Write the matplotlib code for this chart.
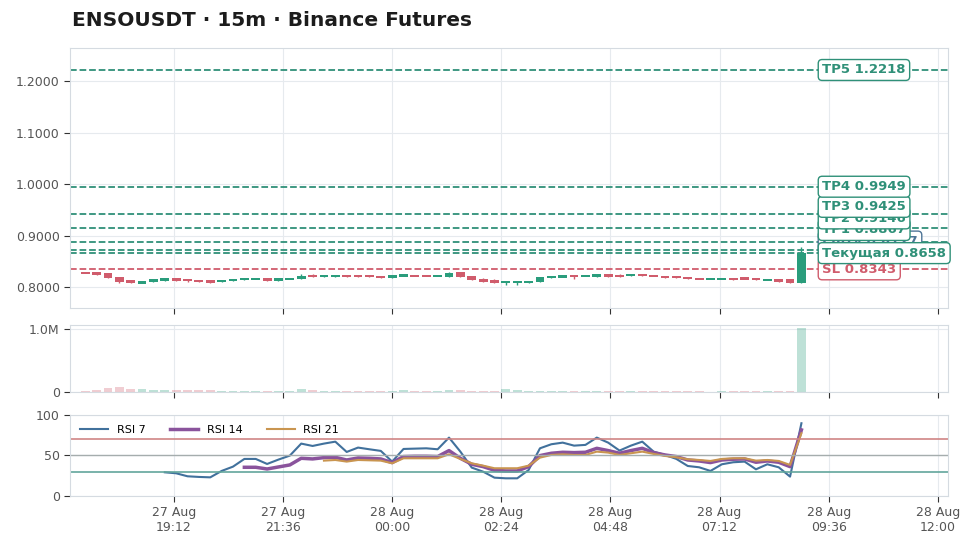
import numpy as np
import pandas as pd
import matplotlib
matplotlib.use('Agg')
import matplotlib.pyplot as plt
import matplotlib.dates as mdates
from matplotlib.ticker import MultipleLocator, FuncFormatter
import matplotlib.transforms as mtransforms

# --- data ---
start = '2025-08-27 17:15'
opens = [0.8285, 0.8298, 0.8266, 0.8201, 0.8130, 0.8072, 0.8091, 0.8123, 0.8175, 0.8156,
         0.8136, 0.8130, 0.8091, 0.8117, 0.8130, 0.8149, 0.8175, 0.8123, 0.8153, 0.8156,
         0.8240, 0.8195, 0.8195, 0.8233, 0.8233, 0.8210, 0.8214, 0.8169, 0.8218, 0.8222,
         0.8222, 0.8214, 0.8195, 0.8285, 0.8220, 0.8162, 0.8143, 0.8085, 0.8095, 0.8072,
         0.8091, 0.8185, 0.8198, 0.8217, 0.8211, 0.8201, 0.8246, 0.8240, 0.8208, 0.8246,
         0.8223, 0.8214, 0.8191, 0.8182, 0.8159, 0.8149, 0.8153, 0.8152, 0.8165, 0.8152,
         0.8133, 0.8149, 0.8149, 0.8085]
closes = [0.8272, 0.8233, 0.8182, 0.8091, 0.8072, 0.8104, 0.8156, 0.8175, 0.8123, 0.8110,
          0.8091, 0.8085, 0.8136, 0.8156, 0.8175, 0.8162, 0.8123, 0.8175, 0.8160, 0.8220,
          0.8195, 0.8233, 0.8233, 0.8195, 0.8195, 0.8205, 0.8169, 0.8233, 0.8224, 0.8216,
          0.8216, 0.8222, 0.8266, 0.8195, 0.8130, 0.8104, 0.8085, 0.8097, 0.8100, 0.8117,
          0.8188, 0.8191, 0.8204, 0.8211, 0.8217, 0.8246, 0.8201, 0.8195, 0.8246, 0.8214,
          0.8217, 0.8182, 0.8185, 0.8156, 0.8153, 0.8155, 0.8159, 0.8146, 0.8159, 0.8146,
          0.8139, 0.8104, 0.8085, 0.8658]
highs = [0.8290, 0.8300, 0.8268, 0.8203, 0.8133, 0.8106, 0.8158, 0.8178, 0.8178, 0.8158,
         0.8138, 0.8132, 0.8138, 0.8158, 0.8178, 0.8165, 0.8178, 0.8178, 0.8163, 0.8246,
         0.8243, 0.8236, 0.8236, 0.8236, 0.8236, 0.8213, 0.8217, 0.8236, 0.8227, 0.8225,
         0.8225, 0.8225, 0.8292, 0.8288, 0.8223, 0.8165, 0.8146, 0.8100, 0.8103, 0.8120,
         0.8191, 0.8194, 0.8227, 0.8220, 0.8220, 0.8249, 0.8249, 0.8243, 0.8249, 0.8249,
         0.8226, 0.8217, 0.8194, 0.8185, 0.8162, 0.8158, 0.8162, 0.8155, 0.8168, 0.8155,
         0.8142, 0.8152, 0.8152, 0.8783]
lows = [0.8268, 0.8230, 0.8178, 0.8072, 0.8068, 0.8068, 0.8088, 0.8120, 0.8120, 0.8106,
        0.8088, 0.8072, 0.8088, 0.8114, 0.8127, 0.8146, 0.8120, 0.8120, 0.8150, 0.8153,
        0.8192, 0.8192, 0.8192, 0.8192, 0.8192, 0.8202, 0.8166, 0.8166, 0.8215, 0.8213,
        0.8213, 0.8211, 0.8192, 0.8192, 0.8127, 0.8101, 0.8082, 0.8033, 0.8046, 0.8069,
        0.8088, 0.8182, 0.8195, 0.8149, 0.8208, 0.8198, 0.8198, 0.8192, 0.8205, 0.8211,
        0.8214, 0.8179, 0.8182, 0.8153, 0.8150, 0.8146, 0.8150, 0.8143, 0.8156, 0.8143,
        0.8130, 0.8101, 0.8082, 0.8082]
volumes = [0.010, 0.026, 0.058, 0.080, 0.048, 0.042, 0.026, 0.026, 0.030, 0.026,
           0.030, 0.030, 0.012, 0.010, 0.012, 0.010, 0.012, 0.010, 0.012, 0.048,
           0.030, 0.010, 0.010, 0.012, 0.008, 0.010, 0.012, 0.010, 0.035, 0.010,
           0.010, 0.012, 0.030, 0.026, 0.012, 0.020, 0.020, 0.050, 0.030, 0.008,
           0.010, 0.008, 0.018, 0.010, 0.008, 0.020, 0.010, 0.010, 0.022, 0.010,
           0.018, 0.020, 0.010, 0.010, 0.008, 0.006, 0.010, 0.008, 0.012, 0.008,
           0.010, 0.008, 0.010, 1.012]  # millions

rsi7 = [np.nan] * 7 + [
    29.2, 28.0, 24.3, 23.5, 23.0, 30.9, 36.2, 45.7, 45.7, 39.5, 44.9, 49.8, 64.6,
    61.7, 64.6, 67.0, 54.3, 59.7, 57.6, 55.6, 42.4, 58.0, 58.4, 58.8, 57.6, 72.0,
    54.7, 35.0, 30.0, 22.6, 21.8, 21.8, 32.0, 58.8, 63.8, 65.8, 62.1, 63.0, 72.0,
    65.8, 56.0, 62.1, 67.0, 54.7, 50.6, 45.7, 37.0, 35.4, 30.9, 39.1, 41.6, 42.4,
    32.9, 39.1, 35.4, 23.9, 89.7]
rsi14 = [np.nan] * 14 + [
    35.4, 35.4, 33.3, 35.8, 38.3, 46.5, 45.7, 47.3, 47.7, 44.4,
    46.9, 46.5, 45.7, 41.2, 48.6, 49.0, 49.0, 48.6, 56.0, 46.5,
    39.1, 36.2, 31.7, 30.9, 30.9, 36.2, 49.8, 52.7, 53.9, 53.5,
    53.9, 58.8, 56.0, 52.7, 56.0, 58.8, 53.5, 50.6, 48.6, 44.4,
    43.2, 41.2, 44.4, 45.3, 45.7, 41.6, 43.2, 41.6, 36.2, 81.5]
rsi21 = [np.nan] * 21 + [
    43.6, 44.4, 42.4, 44.4, 44.0, 43.6, 40.3, 46.5, 46.5, 46.5,
    46.5, 51.4, 45.7, 40.3, 37.4, 34.2, 34.2, 34.2, 37.4, 47.3,
    50.6, 51.4, 50.6, 50.6, 54.7, 53.5, 50.6, 52.7, 54.7, 51.9,
    49.4, 47.7, 45.3, 44.4, 43.2, 45.7, 46.5, 46.5, 43.6, 44.4,
    43.2, 38.3, 77.4]

level_names = ['SL', 'Текущая', 'Entry', 'TP1', 'TP2', 'TP3', 'TP4', 'TP5']
level_values = [0.8343, 0.8658, 0.8727, 0.8867, 0.9146, 0.9425, 0.9949, 1.2218]

GREEN = '#2a9d7c'
RED = '#d05c6c'
LVL_GREEN = '#2f9078'
ENTRY_BLUE = '#4f7597'
TXT = '#555555'
GRID = '#e6eaee'
SPINE = '#d5dbe1'

times = pd.date_range(start, periods=len(opens), freq='15min')
x = mdates.date2num(times.to_pydatetime())
step = 15 / 1440.0
o = np.array(opens); c = np.array(closes)
up = c >= o
cols = [GREEN if u else RED for u in up]

fig = plt.figure(figsize=(9.73, 5.48), dpi=100)
ax = fig.add_axes([0.072, 0.438, 0.902, 0.474])
axv = fig.add_axes([0.072, 0.2847, 0.902, 0.122], sharex=ax)
axr = fig.add_axes([0.072, 0.0949, 0.902, 0.148], sharex=ax)

for a in (ax, axv, axr):
    a.grid(True, color=GRID, lw=0.8)
    a.set_axisbelow(True)
    for s in a.spines.values():
        s.set_color(SPINE)
    a.tick_params(colors='#333333', labelcolor=TXT, labelsize=9, length=4)

# candles
ax.vlines(x, lows, highs, colors=cols, lw=1, zorder=2)
mid = (o + c) / 2
body_h = np.maximum(np.abs(c - o), 0.0045)
ax.bar(x, body_h, width=step * 0.78, bottom=mid - body_h / 2, color=cols, zorder=3)

# levels
for name, v in zip(level_names, level_values):
    col = RED if name == 'SL' else LVL_GREEN
    ax.axhline(v, color=col, ls='--', lw=1.3, zorder=1)

# label positions pushed apart from bottom up
order = np.argsort(level_values)
label_y = {}
prev = -np.inf
for k in order:
    y = max(level_values[k], prev + 0.0225)
    label_y[k] = y
    prev = y

trans = mtransforms.blended_transform_factory(ax.transAxes, ax.transData)
draw_order = [0, 2, 1, 3, 4, 5, 6, 7]
for z, k in enumerate(draw_order):
    name = level_names[k]
    v = level_values[k]
    if name == 'SL':
        col = RED
    elif name == 'Entry':
        col = ENTRY_BLUE
    else:
        col = LVL_GREEN
    ax.text(0.857, label_y[k], f'{name} {v:.4f}', transform=trans, ha='left', va='center',
            fontsize=9.5, fontweight='bold', color=col, zorder=10 + z,
            bbox=dict(boxstyle='round,pad=0.3', fc='white', ec=col, lw=1))

ax.set_ylim(0.7592, 1.2641)
ax.yaxis.set_major_locator(MultipleLocator(0.1))
ax.yaxis.set_major_formatter(FuncFormatter(lambda v, p: f'{v:.4f}'))
ax.tick_params(labelbottom=False)

# volume
axv.bar(x, np.array(volumes) * 1e6, width=step * 0.78, color=cols, alpha=0.3)
axv.set_ylim(0, max(volumes) * 1e6 * 1.05)
axv.set_yticks([0, 1e6])
axv.yaxis.set_major_formatter(FuncFormatter(lambda v, p: '0' if v == 0 else f'{v/1e6:.1f}M'))
axv.tick_params(labelbottom=False)

# RSI
axr.plot(x, rsi7, color='#41719c', lw=1.5, label='RSI 7')
axr.plot(x, rsi14, color='#8a539c', lw=2.5, label='RSI 14')
axr.plot(x, rsi21, color='#c99550', lw=1.5, label='RSI 21')
axr.axhline(70, color='#cf8585', lw=1.2)
axr.axhline(50, color='#a5adad', lw=1.0)
axr.axhline(30, color='#62a69c', lw=1.2)
axr.set_ylim(0, 100)
axr.set_yticks([0, 50, 100])
axr.legend(loc='upper left', ncol=3, frameon=False, fontsize=8, handlelength=2.5,
           columnspacing=2.2)

axr.set_xlim(x[0] - 20 / 1440.0, x[-1] + 193 / 1440.0)
axr.xaxis.set_major_locator(MultipleLocator(0.1))
axr.xaxis.set_major_formatter(mdates.DateFormatter('%d %b\n%H:%M'))

fig.text(0.074, 0.963, 'ENSOUSDT · 15m · Binance Futures', fontsize=14.5,
         fontweight='bold', color='#1c1c1c', ha='left', va='center')

fig.savefig('out.png', dpi=100, facecolor='white')
